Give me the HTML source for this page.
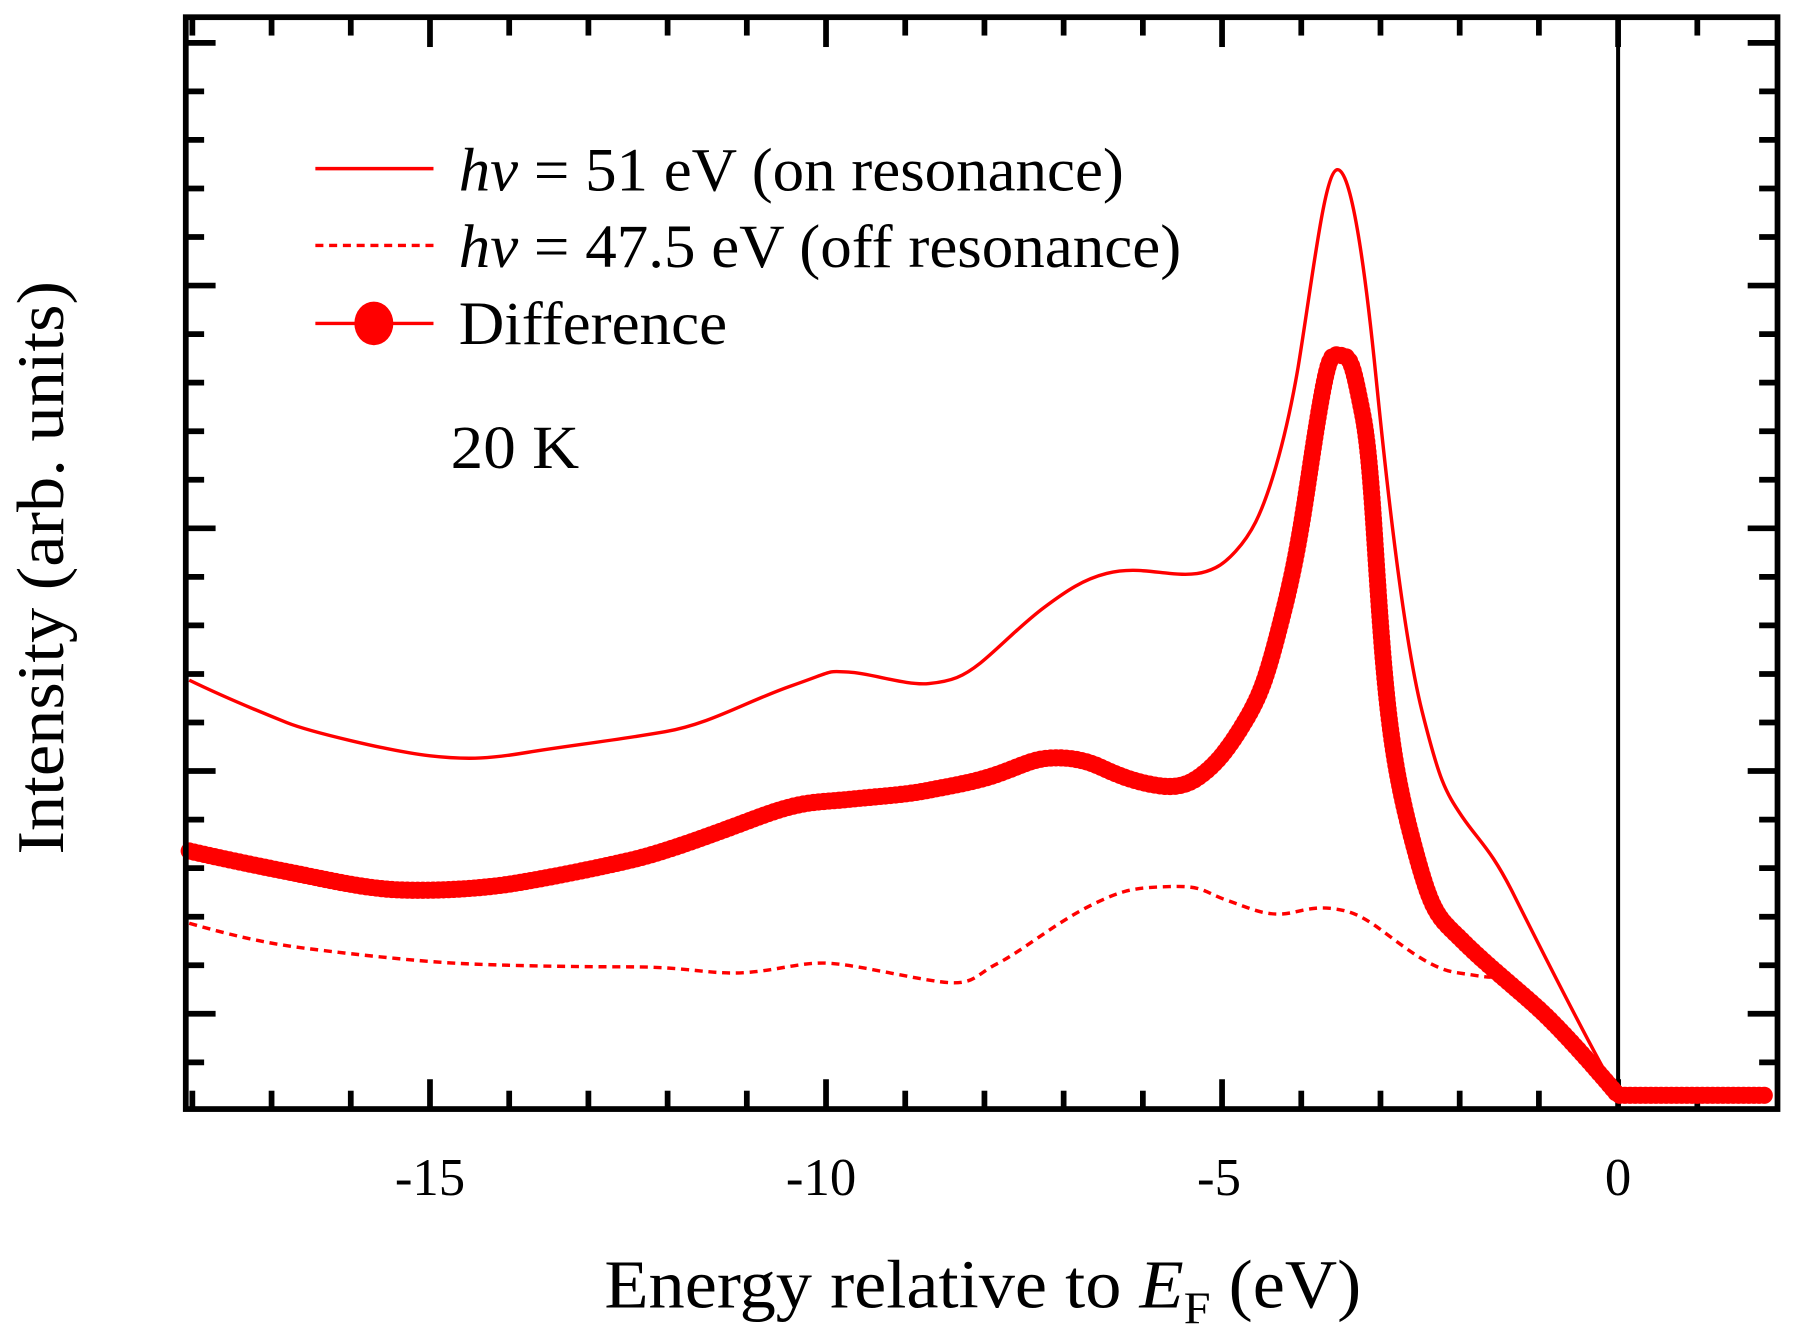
<!DOCTYPE html>
<html><head><meta charset="utf-8"><style>
html,body{margin:0;padding:0;background:#fff;}
svg{display:block;}
text{font-family:"Liberation Serif",serif;fill:#000;}
</style></head><body>
<svg id="s" width="1797" height="1335" viewBox="0 0 1567 1164" preserveAspectRatio="none" xmlns="http://www.w3.org/2000/svg">
<g id="ticks" stroke="#000" stroke-width="5"></g>
<line x1="1411" y1="15" x2="1411" y2="967" stroke="#000" stroke-width="3.5"/>
<path id="solid" fill="none" stroke="#f00" stroke-width="3" d="M165,593 C200,610 230,622 250,630 S340,655 375,659 S430,661 460,656 S540,645 580,638 S650,612 690,598 S720,585 740,586 S790,598 810,596 S840,590 855,578 S890,545 910,530 S945,505 965,500 S1000,498 1020,500 S1050,500 1060,495 S1085,475 1095,455 S1120,390 1132,320 C1145,240 1155,150 1166,148 C1178,146 1190,230 1200,330 S1225,560 1240,620 S1260,690 1275,712 S1300,740 1320,780 S1380,900 1411,955 L1540,952"/>
<path fill="none" stroke="#f00" stroke-width="3" stroke-dasharray="7,5" d="M165,805 C200,815 230,822 260,826 S360,838 400,840 S500,843 550,843 S620,850 650,848 S700,838 725,840 S790,852 820,856 S850,850 870,840 S920,805 950,790 S990,774 1020,773 S1050,778 1070,785 S1100,797 1115,797 S1140,790 1160,792 S1190,800 1210,815 S1250,845 1270,848 S1295,852 1300,852"/>
<path id="diff" fill="none" stroke="#f00" stroke-width="4" d="M165,742 C200,750 230,756 260,762 S320,775 350,776 S420,775 450,770 S520,757 550,750 S620,728 660,713 S710,700 740,697 S790,693 810,689 S850,682 870,675 S900,662 915,661 S945,662 960,669 S990,682 1010,685 S1040,682 1050,674 S1070,655 1085,630 S1105,590 1120,530 S1140,420 1150,360 S1162,310 1170,310 S1180,320 1188,360 S1198,470 1205,560 S1220,690 1235,745 S1255,800 1275,820 S1320,860 1340,878 S1390,930 1411,955 L1540,955"/>
<g id="dots" fill="#f00"></g>
<rect x="162" y="15" width="1388" height="952" fill="none" stroke="#000" stroke-width="5"/>
<g font-size="46" text-anchor="middle">
<text x="375" y="1042">-15</text><text x="716" y="1042">-10</text><text x="1063" y="1042">-5</text><text x="1411" y="1042">0</text>
</g>
<text x="857" y="1140" font-size="60" text-anchor="middle" textLength="660" lengthAdjust="spacingAndGlyphs">Energy relative to <tspan font-style="italic">E</tspan><tspan font-size="40" dy="14">F</tspan><tspan dy="-14"> (eV)</tspan></text>
<text transform="translate(55,495) rotate(-90)" font-size="58" text-anchor="middle" textLength="500" lengthAdjust="spacingAndGlyphs">Intensity (arb. units)</text>
<line x1="275" y1="147" x2="378" y2="147" stroke="#f00" stroke-width="3"/>
<line x1="275" y1="214" x2="378" y2="214" stroke="#f00" stroke-width="3" stroke-dasharray="7,5"/>
<line x1="275" y1="282" x2="378" y2="282" stroke="#f00" stroke-width="3"/>
<ellipse cx="326" cy="282" rx="17" ry="19" fill="#f00"/>
<g font-size="54">
<text x="400" y="166" textLength="580" lengthAdjust="spacingAndGlyphs"><tspan font-style="italic">hv</tspan> = 51 eV (on resonance)</text>
<text x="400" y="233" textLength="630" lengthAdjust="spacingAndGlyphs"><tspan font-style="italic">hv</tspan> = 47.5 eV (off resonance)</text>
<text x="400" y="300" textLength="234" lengthAdjust="spacingAndGlyphs">Difference</text>
<text x="393" y="408" textLength="112" lengthAdjust="spacingAndGlyphs">20 K</text>
</g>
</svg>
<script>
var NS="http://www.w3.org/2000/svg";
var t=document.getElementById("ticks");
function L(a,b,c,d){var l=document.createElementNS(NS,"line");l.setAttribute("x1",a);l.setAttribute("y1",b);l.setAttribute("x2",c);l.setAttribute("y2",d);t.appendChild(l);}
for(var e=-18;e<=2;e++){var x=1411+e*69.07;if(x<165||x>1548)continue;var len=(e%5==0)?26:16;L(x,967,x,967-len);L(x,15,x,15+len);}
for(var i=0;i<23;i++){var y=122+(i-2)*42.33;if(y<20||y>962)continue;var major=(i%5==0);var len=major?26:16;L(162,y,162+len,y);L(1550,y,1550-len,y);}
var p=document.getElementById("diff"),g=document.getElementById("dots"),T=p.getTotalLength();
for(var s=0;s<=T;s+=4.5){var q=p.getPointAtLength(s);var c=document.createElementNS(NS,"circle");c.setAttribute("cx",q.x);c.setAttribute("cy",q.y);c.setAttribute("r",7.5);g.appendChild(c);}
</script>
</body></html>
